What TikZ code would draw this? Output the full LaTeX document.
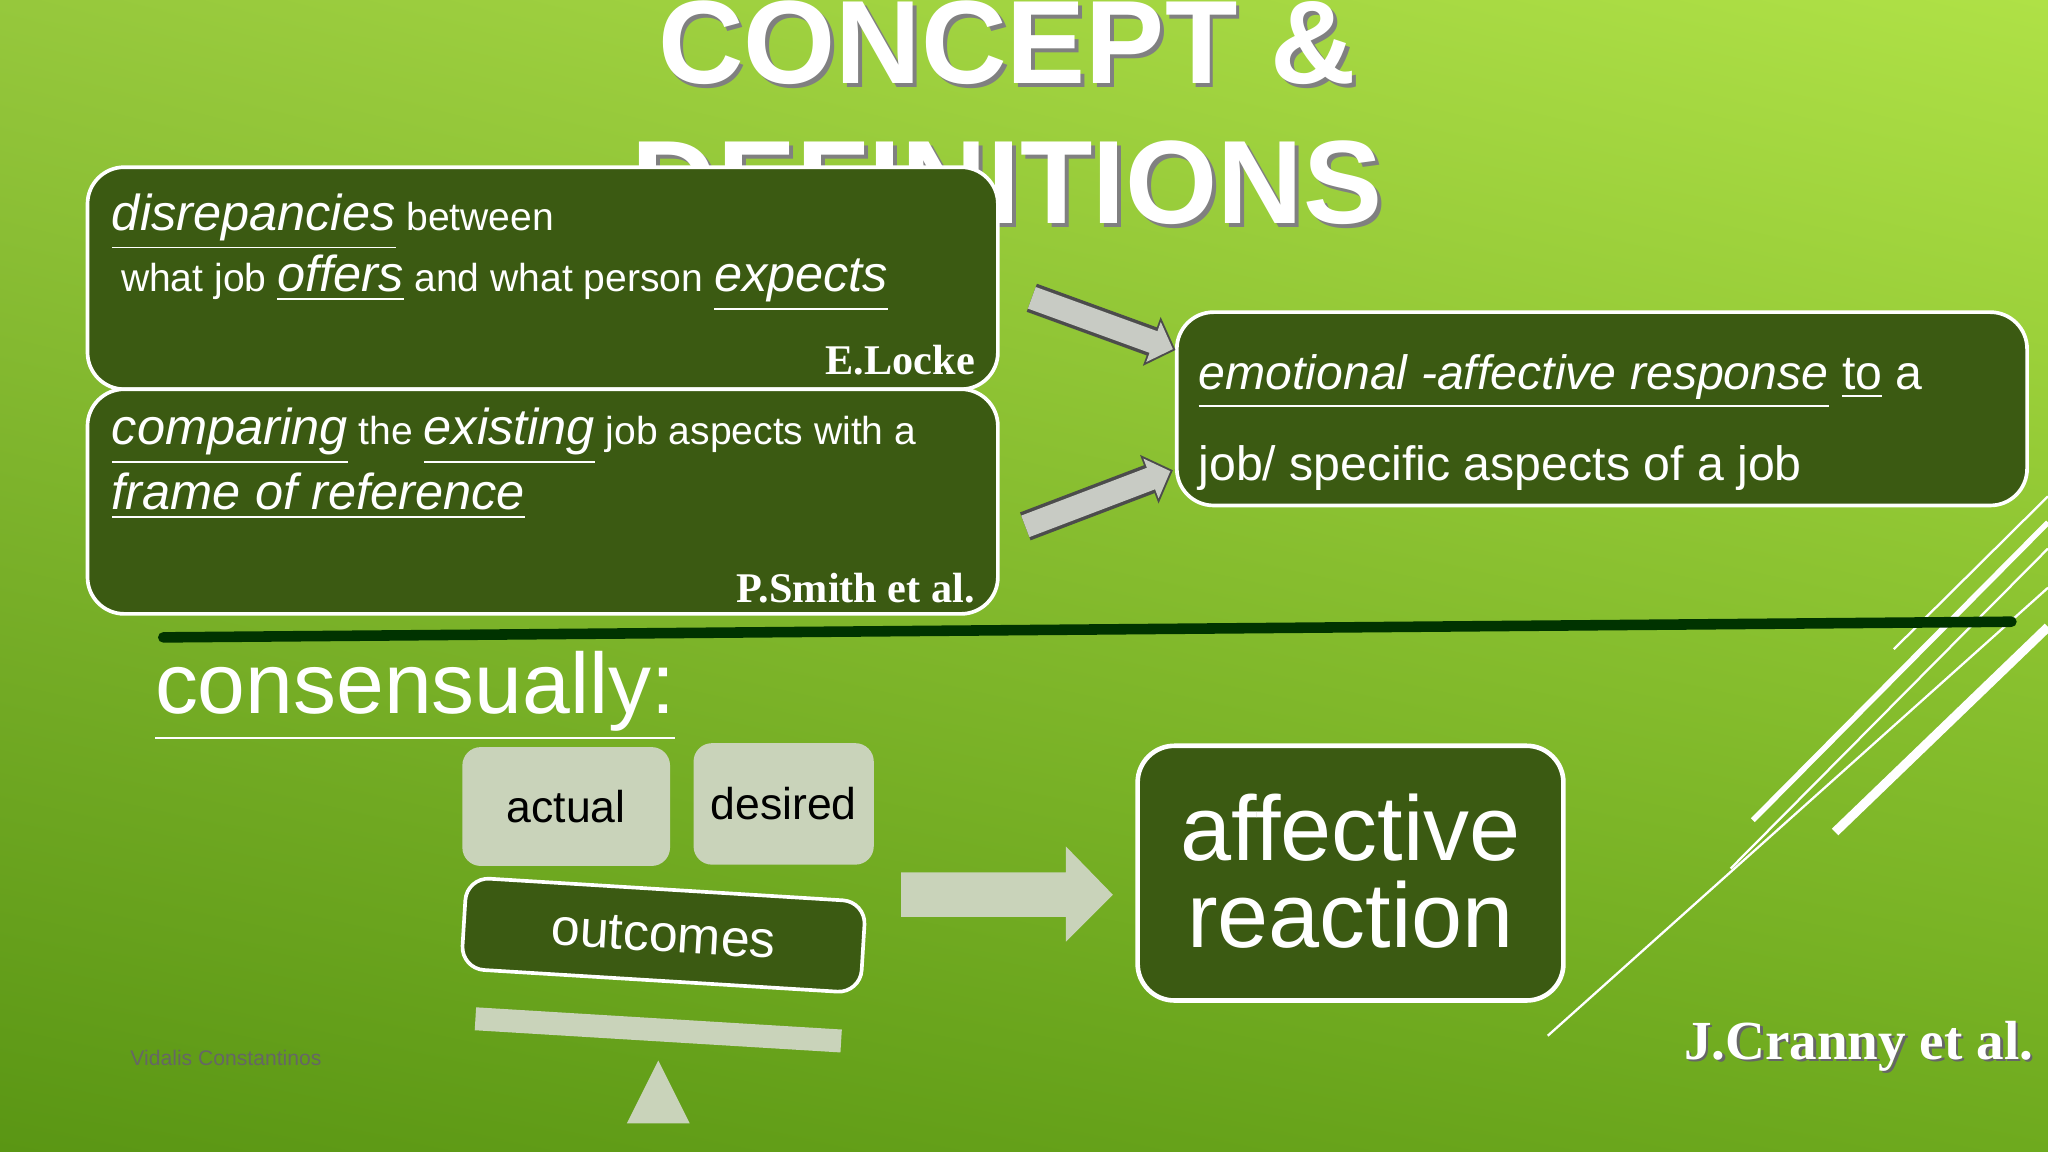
\documentclass[tikz,border=0pt]{standalone}
\usepackage{fontspec}
\setmainfont{Liberation Sans}
\newfontfamily\serifa{Liberation Serif}
\usetikzlibrary{arrows.meta,shadings}
\definecolor{boxg}{HTML}{3B5A12}
\definecolor{lightb}{HTML}{C9D3BA}
\definecolor{grayarr}{HTML}{C8CBC4}
\definecolor{bgul}{RGB}{150,200,60}
\definecolor{bgur}{RGB}{175,225,70}
\definecolor{bgll}{RGB}{90,150,20}
\definecolor{bglr}{RGB}{110,170,30}
\newcommand{\fs}[1]{\fontsize{#1}{#1}\selectfont}
\newcommand{\ui}[1]{\underline{\textit{#1}}}
\begin{document}
\begin{tikzpicture}[x=0.01cm,y=-0.01cm,
  dbox/.style={draw=white,line width=0.8pt,fill=boxg,rounded corners=8pt},
  lbox/.style={fill=lightb,rounded corners=4pt},
  wt/.style={text=white,anchor=west,inner sep=0},
  deco/.style={draw=white,line width=1.2pt}]
\useasboundingbox (0,0) rectangle (1568,882);
\shade[upper left=bgul,upper right=bgur,lower left=bgll,lower right=bglr] (0,0) rectangle (1568,882);
% decorative lines
\draw[deco,line width=0.5pt] (1185,793) -- (1568,450);
\draw[deco,line width=0.5pt] (1325,665) -- (1568,420);
\draw[deco] (1342,628) -- (1568,400);
\draw[deco,line width=2pt] (1405,637) -- (1568,480);
\draw[deco,line width=0.5pt] (1450,497) -- (1568,380);
% title
\foreach \dx/\c in {3/black!50,0/white}{
\node[text=\c,font=\fs{25.8}\bfseries] (t1) at (771+\dx,33+\dx) {CONCEPT \&};
\node[text=\c,font=\fs{25.8}\bfseries] (t2) at (771+\dx,140+\dx) {DEFINITIONS};}
% boxes
\draw[dbox] (67,128) rectangle (764,298);
\node[wt,font=\fs{8.5}] (a1) at (85,170) {\fs{11}\ui{disrepancies}\fs{8.5} between};
\node[wt,font=\fs{8.5}] (a2) at (92,217) {what job \fs{11}\ui{offers}\fs{8.5} and what person \fs{11}\ui{expects}};
\node[wt,anchor=east,font=\serifa\bfseries\fs{9.2}] (a3) at (747,276) {E.Locke};
\draw[dbox] (67,298) rectangle (764,470);
\node[wt,font=\fs{8.5}] (b1) at (85,334) {\fs{11}\ui{comparing}\fs{8.5} the \fs{11}\ui{existing}\fs{8.5} job aspects with a};
\node[wt] (b2) at (85,380) {\fs{11}\ui{frame of reference}};
\node[wt,anchor=east,font=\serifa\bfseries\fs{9.2}] (b3) at (747,450) {P.Smith et al.};
\draw[dbox] (901,239) rectangle (1552,387);
\node[wt,font=\fs{10.5}] (c1) at (917,292) {\ui{emotional -affective response} \underline{to} a};
\node[wt,font=\fs{10.5}] (c2) at (917,358) {job/ specific aspects of a job};
% gray arrows
\coordinate (p1) at (790,228); \coordinate (q1) at (900,268);
\coordinate (p2) at (785,403); \coordinate (q2) at (898,360);
\foreach \p/\q in {p1/q1,p2/q2}{
\draw[black!70,line width=6.5pt,-{Triangle[length=5.5pt,width=11pt]}] (\p) -- (\q);
\draw[grayarr,line width=5pt,shorten >=0.6pt,-{Triangle[length=4.5pt,width=9pt]}] (\p) -- (\q);}
% separator
\draw[black!80!green,line width=2.3pt,line cap=round] (125,488) -- (1540,476);
\node[wt,font=\fs{18.7}] (cons) at (118,533) {\underline{consensually:}};
% balance
\path[lbox] (354,572) rectangle (513,663) node[midway,font=\fs{9.7},text=black] (act) {actual};
\path[lbox] (531,569) rectangle (669,662) node[midway,font=\fs{9.7},text=black] (des) {desired};
\node[dbox,rotate=-3.5,minimum width=3.06cm,minimum height=0.7cm,text=white,font=\fs{11.3},rounded corners=5pt] (out) at (508,716) {outcomes};
\draw[lightb,line width=5pt] (364,780) -- (644,797);
\fill[lightb] (480,860) -- (528,860) -- (504,812) -- cycle;
% big arrow
\fill[lightb] (690,668) -- (816,668) -- (816,648) -- (852,685) -- (816,721) -- (816,702) -- (690,702) -- cycle;
\draw[dbox,line width=1pt] (871,571) rectangle (1197,766);
\node[text=white,font=\fontsize{20}{19}\selectfont,align=center] (aff) at (1034,667) {affective\\reaction};
% credits
\node[text=black!60,font=\serifa\bfseries\fs{12}] at (1425,803) {J.Cranny et al.};
\node[text=white,font=\serifa\bfseries\fs{12}] (cr) at (1423,801) {J.Cranny et al.};
\node[text=black!60,font=\fs{4.6}] (vc) at (173,810) {Vidalis Constantinos};
\end{tikzpicture}
\end{document}
